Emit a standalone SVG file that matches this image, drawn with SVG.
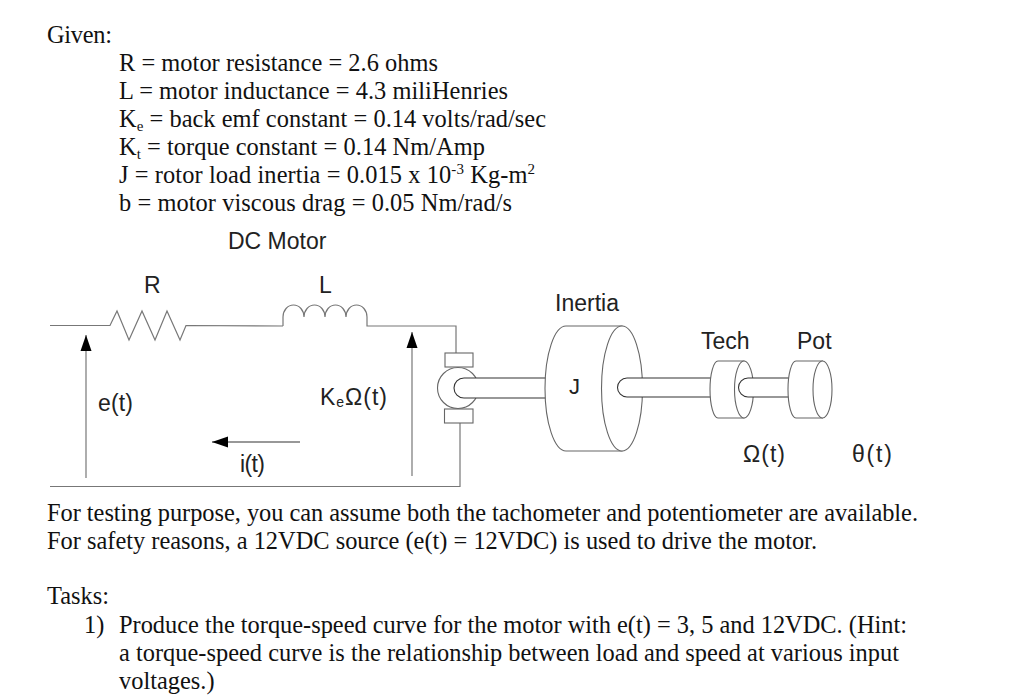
<svg xmlns="http://www.w3.org/2000/svg" width="1024" height="695" viewBox="0 0 1024 695">
<style>
.t{font-family:"Liberation Serif","Times New Roman",serif;font-size:24.4px;fill:#111}
.s{font-size:15px}
.u{font-size:15px}
.l{font-family:"Liberation Sans",Arial,sans-serif;font-size:23px;fill:#222}
.w{fill:none;stroke:#777;stroke-width:1.2}
.o{fill:#fff;stroke:#666;stroke-width:1.1}
.a{stroke:#777;stroke-width:1.2;fill:none}
.sh{fill:#fff;stroke:none}
.e{fill:none;stroke:#333;stroke-width:1.1}
</style>
<defs>
<marker id="ah" markerUnits="userSpaceOnUse" markerWidth="16" markerHeight="12" refX="16" refY="6" orient="auto"><path d="M0,0.5L16,6L0,11.5z" fill="#000"/></marker>
</defs>
<rect width="1024" height="695" fill="#fff"/>
<g id="given-text">
<text class="t" x="47" y="43" textLength="65">Given:</text>
<text class="t" x="119" y="71" textLength="319">R = motor resistance = 2.6 ohms</text>
<text class="t" x="119" y="99" textLength="389">L = motor inductance = 4.3 miliHenries</text>
<text class="t" x="119" y="127" textLength="427">K<tspan class="s" dy="4">e</tspan><tspan dy="-4"> = back emf constant = 0.14 volts/rad/sec</tspan></text>
<text class="t" x="119" y="155" textLength="366">K<tspan class="s" dy="4">t</tspan><tspan dy="-4"> = torque constant = 0.14 Nm/Amp</tspan></text>
<text class="t" x="119" y="183" textLength="416">J = rotor load inertia = 0.015 x 10<tspan class="u" dy="-9">-3</tspan><tspan dy="9"> Kg-m</tspan><tspan class="u" dy="-9">2</tspan></text>
<text class="t" x="119" y="211" textLength="393">b = motor viscous drag = 0.05 Nm/rad/s</text>
</g>
<g id="connectors">
<path class="w" d="M50,325.5H110L117,311L129,340L142,311L155,340L167,311L180,340L186,325.5L283,326"/>
<path class="w" d="M283,326V317A10.5,12 0 0 1 304,317A10.5,12 0 0 1 325,317A10.5,12 0 0 1 346,317A10.5,12 0 0 1 367,317V326H456V353"/>
<path class="w" d="M460,423V486.5H50"/>
<path class="a" d="M86,478V335" marker-end="url(#ah)"/>
<path class="a" d="M412,476V332" marker-end="url(#ah)"/>
<path d="M300,442H212" stroke="#333" stroke-width="1.2" fill="none" marker-end="url(#ah)"/>
</g>
<g id="motor-armature">
<rect class="o" x="445" y="353" width="28" height="14"/>
<rect class="o" x="444.500" y="409" width="28.500" height="14"/>
<circle class="o" cx="458" cy="388" r="20.500"/>
</g>
<g id="shaft-motor">
<path class="sh" d="M464,378H548V398H464A10,10 0 0 1 464,378z"/>
<path class="e" d="M548,378H464A10,10 0 0 0 464,398H548"/>
</g>
<g id="inertia">
<path class="o" d="M566,326H622V451H566A21,62.500 0 0 1 566,326z"/>
<ellipse class="o" cx="622" cy="388.500" rx="20.500" ry="62.500"/>
</g>
<g id="shaft-inertia">
<path class="sh" d="M627,378H711V397H627A9.500,9.500 0 0 1 627,378z"/>
<path class="e" d="M711,378H627A9.500,9.500 0 0 0 627,397H711"/>
</g>
<g id="tech">
<path class="o" d="M718,361H744V418H718A8,28.500 0 0 1 718,361z"/>
<ellipse class="o" cx="744" cy="389.500" rx="9.500" ry="28.500"/>
</g>
<g id="shaft-tech">
<path class="sh" d="M748,378H789V397H748A9.500,9.500 0 0 1 748,378z"/>
<path class="e" stroke="#555" d="M789,378H748A9.500,9.500 0 0 0 748,397H789"/>
</g>
<g id="pot">
<path class="o" d="M796,361H822.500V418H796A8,28.500 0 0 1 796,361z"/>
<ellipse class="o" cx="822.500" cy="389.500" rx="9.500" ry="28.500"/>
</g>
<g id="labels">
<text class="l" x="228" y="249">DC Motor</text>
<text class="l" x="144" y="293">R</text>
<text class="l" x="319" y="293">L</text>
<text class="l" x="555" y="311">Inertia</text>
<text class="l" x="701" y="349">Tech</text>
<text class="l" x="797" y="349">Pot</text>
<text class="l" x="569" y="394" style="font-size:22px">J</text>
<text class="l" x="98" y="411" textLength="35">e(t)</text>
<text class="l" x="320" y="405" textLength="67">K<tspan style="font-size:14px" dy="2">e</tspan><tspan dy="-2">Ω(t)</tspan></text>
<text class="l" x="240" y="472" textLength="25">i(t)</text>
<text class="l" x="743" y="462" textLength="42">Ω(t)</text>
<text class="l" x="852" y="462" textLength="40">θ(t)</text>
</g>
<g id="body-text">
<text class="t" x="47" y="521" textLength="871">For testing purpose, you can assume both the tachometer and potentiometer are available.</text>
<text class="t" x="47" y="549" textLength="770">For safety reasons, a 12VDC source (e(t) = 12VDC) is used to drive the motor.</text>
<text class="t" x="47" y="604">Tasks:</text>
<text class="t" x="84" y="633">1)</text>
<text class="t" x="119" y="633" textLength="788">Produce the torque-speed curve for the motor with e(t) = 3, 5 and 12VDC. (Hint:</text>
<text class="t" x="119" y="661" textLength="780">a torque-speed curve is the relationship between load and speed at various input</text>
<text class="t" x="119" y="689">voltages.)</text>
</g>
</svg>
